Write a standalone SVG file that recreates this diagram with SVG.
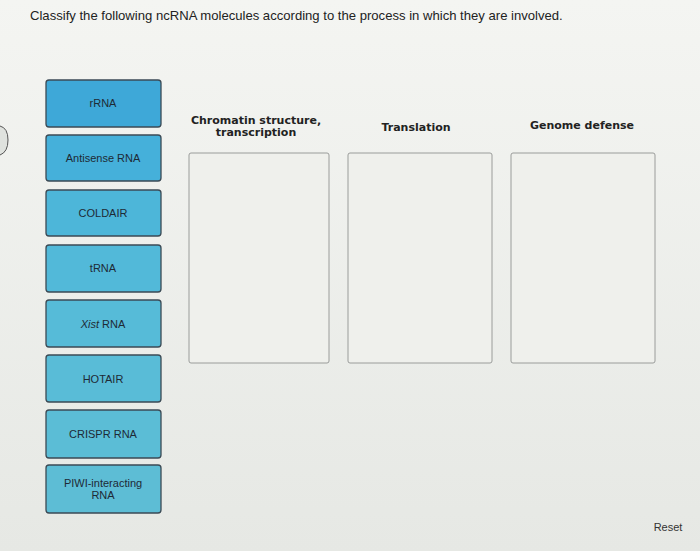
<svg xmlns="http://www.w3.org/2000/svg" width="700" height="551" viewBox="0 0 700 551">
<defs>
<linearGradient id="bg" x1="0" y1="0" x2="0" y2="1"><stop offset="0" stop-color="#f4f5f2"/><stop offset="1" stop-color="#e6e8e4"/></linearGradient>
<style>
.btn{stroke:#3b4a55;stroke-width:1.3}
.bt{font-family:"Liberation Sans",Arial,sans-serif;font-size:11px;fill:#1e2a35;text-anchor:middle}
.h{font-family:"DejaVu Sans",sans-serif;font-size:11px;font-weight:bold;fill:#222;text-anchor:middle}
.zone{fill:#eff0ec;stroke:#9a9c9a;stroke-width:1}
</style>
</defs>
<rect width="700" height="551" fill="url(#bg)"/>
<text x="30" y="20" font-family="Liberation Sans,Arial,sans-serif" font-size="13.1" fill="#222">Classify the following ncRNA molecules according to the process in which they are involved.</text>
<path d="M0 126 Q8 128 8 140 Q8 152 0 155" fill="#dfe2de" stroke="#555" stroke-width="1"/>
<g id="rRNA"><rect class="btn" x="46" y="80" width="115" height="47" rx="3" fill="#3ea8d8"/><text class="bt" x="103" y="107">rRNA</text></g>
<g id="antisense"><rect class="btn" x="46" y="135" width="115" height="46" rx="3" fill="#45b0da"/><text class="bt" x="103" y="162">Antisense RNA</text></g>
<g id="coldair"><rect class="btn" x="46" y="190" width="115" height="46" rx="3" fill="#4db6d9"/><text class="bt" x="103" y="217">COLDAIR</text></g>
<g id="tRNA"><rect class="btn" x="46" y="245" width="115" height="47" rx="3" fill="#52b9d9"/><text class="bt" x="103" y="272">tRNA</text></g>
<g id="xist"><rect class="btn" x="46" y="300" width="115" height="47" rx="3" fill="#56bbd8"/><text class="bt" x="103" y="328" font-style="italic">Xist<tspan font-style="normal"> RNA</tspan></text></g>
<g id="hotair"><rect class="btn" x="46" y="355" width="115" height="47" rx="3" fill="#59bcd7"/><text class="bt" x="103" y="383">HOTAIR</text></g>
<g id="crispr"><rect class="btn" x="46" y="410" width="115" height="48" rx="3" fill="#5bbdd6"/><text class="bt" x="103" y="438">CRISPR RNA</text></g>
<g id="piwi"><rect class="btn" x="46" y="465" width="115" height="48" rx="3" fill="#5dbdd5"/><text class="bt" x="103" y="487">PIWI-interacting</text><text class="bt" x="103" y="499">RNA</text></g>
<g id="chromatin"><text class="h" x="256" y="124">Chromatin structure,</text><text class="h" x="256" y="136">transcription</text><rect class="zone" x="189" y="153" width="140" height="210" rx="2"/></g>
<g id="translation"><text class="h" x="416" y="131">Translation</text><rect class="zone" x="348" y="153" width="144" height="210" rx="2"/></g>
<g id="genome"><text class="h" x="582" y="129">Genome defense</text><rect class="zone" x="511" y="153" width="144" height="210" rx="2"/></g>
<text x="668" y="531" font-family="Liberation Sans,Arial,sans-serif" font-size="11" fill="#333" text-anchor="middle">Reset</text>
<g id="connectors"/>
</svg>
